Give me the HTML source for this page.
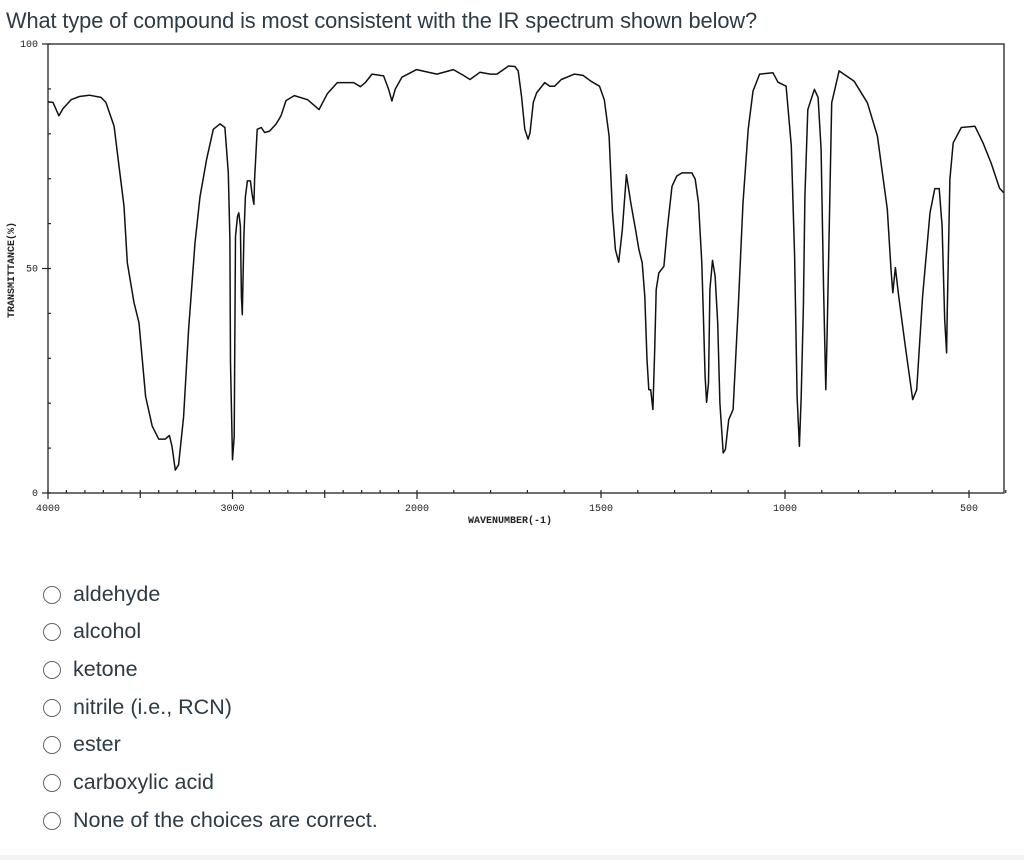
<!DOCTYPE html>
<html><head><meta charset="utf-8"><style>
body{margin:0;background:#fff;width:1024px;height:860px;overflow:hidden;position:relative;font-family:"Liberation Sans",sans-serif;color:#2d3b45}
.q{position:absolute;left:6px;top:8px;font-size:21.8px;letter-spacing:-0.1px}
.opt{position:absolute;left:42px;font-size:21.5px;display:flex;align-items:center;}
.rad{width:18px;height:18px;border:1.3px solid #666;border-radius:50%;box-sizing:border-box;margin-right:12px;margin-left:1px}
.band{position:absolute;left:0;top:855px;width:1024px;height:5px;background:#f3f3f3}
</style></head><body>
<div class="q">What type of compound is most consistent with the IR spectrum shown below?</div>
<svg id="chart" width="1024" height="540" style="position:absolute;left:0;top:0" font-family="Liberation Mono, monospace"></svg>
<div class="opt" style="top:582px"><span class="rad"></span>aldehyde</div>
<div class="opt" style="top:619px"><span class="rad"></span>alcohol</div>
<div class="opt" style="top:657px"><span class="rad"></span>ketone</div>
<div class="opt" style="top:695px"><span class="rad"></span>nitrile (i.e., RCN)</div>
<div class="opt" style="top:732px"><span class="rad"></span>ester</div>
<div class="opt" style="top:770px"><span class="rad"></span>carboxylic acid</div>
<div class="opt" style="top:808px"><span class="rad"></span>None of the choices are correct.</div>
<div class="band"></div>
<script>
const wavenumbers=[4000,3973,3941,3919,3875,3830,3776,3713,3686,3642,3615,3588,3570,3534,3507,3471,3435,3400,3364,3342,3328,3310,3292,3265,3238,3203,3176,3140,3104,3068,3041,3023,3014,3011,3000,2991,2984,2973,2966,2957,2952,2947,2938,2930,2919,2903,2894,2884,2880,2866,2844,2826,2799,2763,2737,2710,2665,2593,2531,2486,2432,2343,2307,2280,2244,2181,2154,2136,2118,2082,2002,1946,1901,1874,1856,1829,1801,1783,1751,1734,1725,1716,1707,1698,1693,1684,1675,1653,1639,1626,1608,1572,1549,1527,1504,1491,1478,1469,1461,1452,1442,1431,1419,1406,1397,1388,1381,1375,1370,1365,1359,1354,1350,1343,1329,1320,1307,1294,1280,1253,1244,1235,1226,1222,1217,1213,1208,1204,1197,1190,1183,1177,1168,1162,1153,1141,1127,1114,1100,1087,1069,1033,1019,997,983,974,967,961,956,950,946,938,920,910,902,895,889,886,880,873,853,812,776,749,722,712,707,700,691,673,653,642,626,606,593,581,573,566,561,559,552,543,521,484,462,440,417,406];
const transmittance=[87.1,87,84,85.6,87.6,88.3,88.6,88.1,87,81.7,72.8,63.9,51.3,42.4,37.9,21.5,14.9,12,12,12.8,10.4,5.1,6.3,17,36.4,55.7,66,74.4,81,82.2,81.4,71.3,56.5,29,7.4,12.6,57.2,61.6,62.4,59.4,43.8,39.7,57.2,66,69.5,69.5,66.5,64.3,69.9,81,81.4,80.3,80.6,82.2,84,87.4,88.5,87.6,85.4,88.9,91.4,91.4,90.5,91.4,93.3,92.9,89.9,87.3,89.9,92.6,94.3,93.3,94.3,93,92.1,93.7,93.3,93.3,95.1,95,94,88.4,81,78.8,80.2,87,89.1,91.4,90.6,90.6,92.1,93.3,93,91.7,90.6,87.6,79.5,62.8,54.2,51.4,58.6,70.9,64.6,58.6,54.2,51.3,43.8,29.7,23,23,18.6,31.9,45.3,49,50.5,58.6,68.3,70.6,71.3,71.3,69.9,64.6,51.3,40.1,26,20.2,24.5,45.3,51.8,48.3,37.9,20,8.9,9.7,16.3,18.6,41.6,64.6,81,89.5,93.3,93.6,91.5,90.6,77.3,52.8,21.5,10.4,21.5,41.6,66,85.4,89.9,88.1,76.5,45.3,23,34.2,58.6,86.9,94,91.7,86.9,79.5,63.2,49.8,44.6,50.2,43.8,32.7,20.8,23,43.8,62.4,67.8,67.8,59.4,38.6,31.2,40.9,69.9,78,81.4,81.7,78,73.5,67.9,66.9];
const xTickLabels=[4000,3000,2000,1500,1000,500];
const yTickLabels=[0,50,100];
const L=48,R=1004,T=44,B=493;
function xs(w){return w>=2000?417-(w-2000)*0.1845:417+(2000-w)*0.368;}
function ys(t){return B-(t/100)*(B-T);}
const svg=document.getElementById('chart');const NS='http://www.w3.org/2000/svg';
function mk(tag,attrs){const e=document.createElementNS(NS,tag);for(const k in attrs)e.setAttribute(k,attrs[k]);svg.appendChild(e);return e;}
const frame=mk('rect',{x:L,y:T,width:R-L,height:B-T,fill:'none',stroke:'#222','stroke-width':1.3});


for(let w=4000;w>=400;w-=100){const x=xs(w);const major=w%1000===0;const mid=w%500===0;
 const t=mk('line',{x1:x,x2:x,y1:B-3,y2:B+(major?6:(mid?5:0)),stroke:'#222','stroke-width':1.2});
 
 }
xTickLabels.forEach(w=>{const t=mk('text',{x:xs(w),y:B+18,'font-size':10,'text-anchor':'middle',fill:'#222'});t.textContent=w;
 
 });
for(let v=0;v<=100;v+=10){const y=ys(v);const t=mk('line',{x1:v%50===0?L-6:L,x2:L+3,y1:y,y2:y,stroke:'#222','stroke-width':1.2});
 
 }
yTickLabels.forEach(v=>{const t=mk('text',{x:L-10,y:ys(v)+3,'font-size':10,'text-anchor':'end',fill:'#222'});t.textContent=v;
 
 });
const xt=mk('text',{x:510,y:523,'font-size':10,'text-anchor':'middle',fill:'#222','font-weight':'bold'});xt.textContent='WAVENUMBER(-1)';


const yt=mk('text',{x:14,y:270,'font-size':10,'text-anchor':'middle',fill:'#222','font-weight':'bold',transform:'rotate(-90 14 270)'});yt.textContent='TRANSMITTANCE(%)';


const pts=wavenumbers.map((w,i)=>xs(w).toFixed(1)+','+ys(transmittance[i]).toFixed(1)).join(' ');
const line=mk('polyline',{points:pts,fill:'none',stroke:'#111','stroke-width':1.5,'stroke-linejoin':'round'});


</script>
</body></html>
